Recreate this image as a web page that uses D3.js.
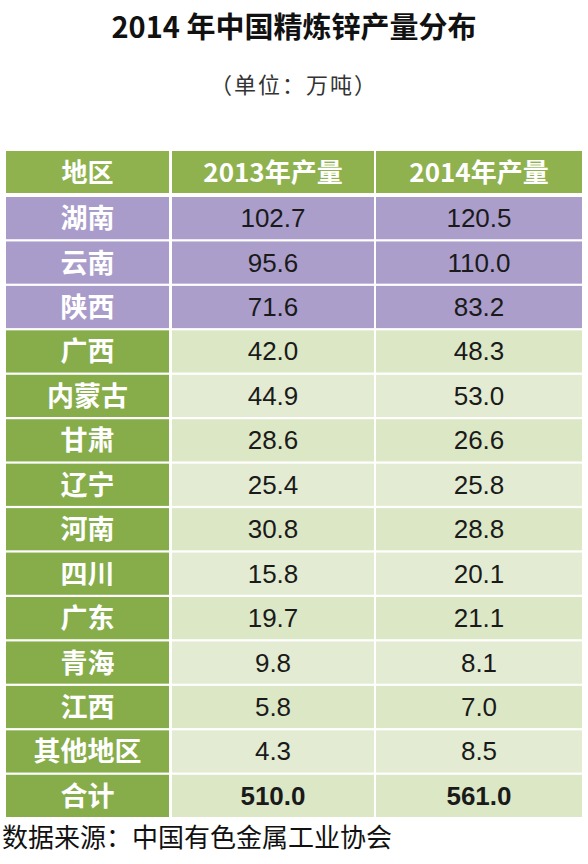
<!DOCTYPE html><html><head><meta charset="utf-8"><script src="https://cdn.jsdelivr.net/npm/d3@7"></script>
<style>body{margin:0;background:#fff}</style></head><body><svg id="c" width="588" height="864"></svg><script>
const headers=["地区","2013年产量","2014年产量"];
const regions=["湖南","云南","陕西","广西","内蒙古","甘肃","辽宁","河南","四川","广东","青海","江西","其他地区","合计"];
const v2013=["102.7","95.6","71.6","42.0","44.9","28.6","25.4","30.8","15.8","19.7","9.8","5.8","4.3","510.0"];
const v2014=["120.5","110.0","83.2","48.3","53.0","26.6","25.8","28.8","20.1","21.1","8.1","7.0","8.5","561.0"];
const F="'Noto Sans CJK SC','Noto Sans',sans-serif";
const svg=d3.select("#c");
svg.append("text").attr("x",294).attr("y",38).attr("text-anchor","middle").attr("font-family",F).attr("font-weight","bold").attr("font-size",29).attr("fill","#111").text("2014 年中国精炼锌产量分布");
svg.append("text").attr("x",294).attr("y",93).attr("text-anchor","middle").attr("font-family",F).attr("font-size",22).attr("letter-spacing",2).attr("fill","#333").text("（单位：万吨）");
const cols=[[6,169],[172,374],[376,582]];
const row=d3.scaleBand().domain(d3.range(regions.length)).range([197,817]).paddingInner(0.05);
cols.forEach((c,i)=>{svg.append("rect").attr("x",c[0]).attr("y",151).attr("width",c[1]-c[0]).attr("height",42).attr("fill","#8fb24f");
svg.append("text").attr("x",(c[0]+c[1])/2).attr("y",182).attr("text-anchor","middle").attr("font-family",F).attr("font-weight","bold").attr("font-size",26).attr("fill","#fff").text(headers[i]);});
regions.forEach((r,i)=>{const y=row(i),h=row.bandwidth();const top=i<3;
svg.append("rect").attr("x",cols[0][0]).attr("y",y).attr("width",cols[0][1]-cols[0][0]).attr("height",h).attr("fill",top?"#a99cca":"#86ad4a");
svg.append("text").attr("x",(cols[0][0]+cols[0][1])/2).attr("y",y+h/2+10).attr("text-anchor","middle").attr("font-family",F).attr("font-weight","bold").attr("font-size",27).attr("fill","#fff").text(r);
[v2013,v2014].forEach((arr,j)=>{const c=cols[j+1];
svg.append("rect").attr("x",c[0]).attr("y",y).attr("width",c[1]-c[0]).attr("height",h).attr("fill",top?"#ab9ecb":(i%2?"#dce7c6":"#e3ecd2"));
svg.append("text").attr("x",(c[0]+c[1])/2).attr("y",y+h/2+9).attr("text-anchor","middle").attr("font-family","'Liberation Sans',Arial,sans-serif").attr("font-weight",i==13?"bold":"normal").attr("font-size",26).attr("fill","#1a1a1a").text(arr[i]);});});
svg.append("text").attr("x",2).attr("y",847).attr("font-family",F).attr("font-size",26).attr("fill","#111").text("数据来源：中国有色金属工业协会");
</script></body></html>
